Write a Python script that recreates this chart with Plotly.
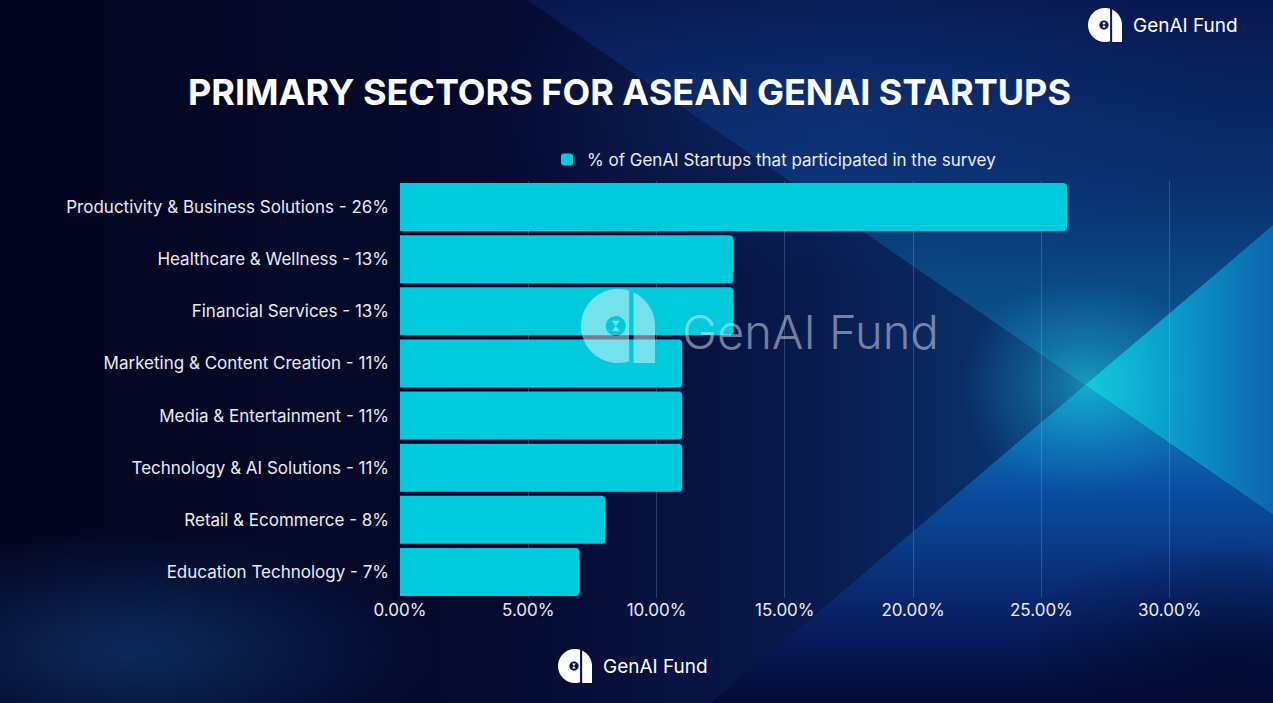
import numpy as np
import plotly.graph_objects as go

# ---------------- data ----------------
categories = [
    "Productivity & Business Solutions - 26%",
    "Healthcare & Wellness - 13%",
    "Financial Services - 13%",
    "Marketing & Content Creation - 11%",
    "Media & Entertainment - 11%",
    "Technology & AI Solutions - 11%",
    "Retail & Ecommerce - 8%",
    "Education Technology - 7%",
]
share_pct = [26, 13, 13, 11, 11, 11, 8, 7]
x_ticks = [0, 5, 10, 15, 20, 25, 30]
x_tick_labels = ["0.00%", "5.00%", "10.00%", "15.00%", "20.00%", "25.00%", "30.00%"]
series_name = "% of GenAI Startups that participated in the survey"
title_text = "PRIMARY SECTORS FOR ASEAN GENAI STARTUPS"
brand = "GenAI Fund"

W, H = 1273, 703
FONT = "Inter"
BAR = "#00CBDC"

fig = go.Figure()

# ---------------- decorative background (pixel space on x/y) ----------------
def poly(pts, grad, gtype, start=None, stop=None):
    xs = [p[0] for p in pts] + [pts[0][0]]
    ys = [p[1] for p in pts] + [pts[0][1]]
    fg = dict(type=gtype, colorscale=grad)
    if start is not None:
        fg["start"] = start
        fg["stop"] = stop
    fig.add_trace(go.Scatter(x=xs, y=ys, mode="lines", fill="toself",
                             line=dict(width=0), fillgradient=fg,
                             hoverinfo="skip", showlegend=False,
                             xaxis="x", yaxis="y"))

def ellipse(cx, cy, rx, ry, grad):
    t = np.linspace(0, 2 * np.pi, 90)
    pts = list(zip(cx + rx * np.cos(t), cy + ry * np.sin(t)))
    poly(pts, grad, "radial")

C = (1085, 385)
poly([(0, 0), (527, 0), C, (711, 703), (0, 703)],
     [[0, "#03051e"], [0.45, "#050a2e"], [0.75, "#081a4e"], [1, "#0b3c78"]],
     "horizontal", 0, 1085)
poly([(527, 0), (1273, 0), (1273, 225), C],
     [[0, "#08174f"], [0.5, "#0a3170"], [1, "#0b6398"]],
     "vertical", 0, 385)
poly([C, (1273, 225), (1273, 515)],
     [[0, "#07c6d4"], [0.5, "#0b98c8"], [1, "#0d66ae"]],
     "horizontal", 1085, 1273)
poly([(711, 703), C, (1273, 515), (1273, 703)],
     [[0, "#0a88bc"], [0.35, "#0a4c9e"], [0.75, "#081f62"], [1, "#050b38"]],
     "vertical", 385, 703)
ellipse(1085, 385, 125, 110, [[0, "rgba(30,210,225,0.5)"], [1, "rgba(30,150,210,0)"]])
ellipse(130, 650, 300, 120, [[0, "rgba(20,70,140,0.55)"], [1, "rgba(20,70,140,0)"]])
ellipse(850, 110, 380, 170, [[0, "rgba(20,70,150,0.3)"], [1, "rgba(20,70,150,0)"]])
ellipse(1230, 660, 220, 120, [[0, "rgba(3,6,35,0.6)"], [1, "rgba(3,6,35,0)"]])

# ---------------- bars ----------------
fig.add_trace(go.Bar(
    y=categories, x=share_pct, orientation="h", name=series_name,
    marker=dict(color=BAR, line=dict(width=0)),
    xaxis="x2", yaxis="y2", showlegend=True,
    hovertemplate="%{y}: %{x:.2f}%<extra></extra>",
))

# ---------------- logo shapes ----------------
def arc(cx, cy, r, t0, t1, n=40):
    t = np.linspace(t0, t1, n)
    return [(cx + r * np.cos(a), cy + r * np.sin(a)) for a in t]

def path_of(pts, close=True):
    s = "M " + " L ".join(f"{x:.2f},{y:.2f}" for x, y in pts)
    return s + (" Z" if close else "")

shapes = []

def logo(cx, cy, r, color):
    a = 0.30 * r
    b = 0.42 * r
    ta = np.arccos(a / r)
    left = arc(cx, cy, r, -ta, -(2 * np.pi - ta), 60)
    hole = arc(cx - 0.06 * r, cy, 0.27 * r, 0, 2 * np.pi, 30)
    p = path_of(left) + " " + path_of(hole)
    shapes.append(dict(type="path", path=p, xref="x", yref="y",
                       fillcolor=color, line=dict(width=0),
                       fillrule="evenodd", layer="above"))
    tb = np.arccos(b / r)
    right = arc(cx, cy, r, -tb, 0, 30) + [(cx + r, cy + r), (cx + b, cy + r)]
    shapes.append(dict(type="path", path=path_of(right), xref="x", yref="y",
                       fillcolor=color, line=dict(width=0), layer="above"))
    hx = cx - 0.06 * r
    w, h = 0.11 * r, 0.14 * r
    hg = [(hx - w, cy - h), (hx + w, cy - h), (hx, cy), (hx + w, cy + h), (hx - w, cy + h), (hx, cy)]
    shapes.append(dict(type="path", path=path_of(hg), xref="x", yref="y",
                       fillcolor=color, line=dict(width=0), layer="above"))

logo(1105, 25, 17, "#ffffff")
logo(575, 666, 17, "#ffffff")
logo(618, 326, 37, "rgba(255,255,255,0.45)")

annotations = [
    dict(text=brand, x=1131, y=25, xref="x", yref="y", xanchor="left", yanchor="middle",
         showarrow=False, font=dict(family=FONT, size=19, color="#ffffff")),
    dict(text=brand, x=601, y=666, xref="x", yref="y", xanchor="left", yanchor="middle",
         showarrow=False, font=dict(family=FONT, size=19, color="#ffffff")),
    dict(text=brand, x=680, y=331, xref="x", yref="y", xanchor="left", yanchor="middle",
         showarrow=False, font=dict(family=FONT, size=47, color="rgba(225,230,245,0.5)", weight=300)),
]

y_lo = 1 - 598 / H
y_hi = 1 - 181 / H

fig.update_layout(
    width=W, height=H, autosize=False,
    margin=dict(l=0, r=0, t=0, b=0, pad=0),
    paper_bgcolor="#03051e",
    plot_bgcolor="rgba(0,0,0,0)",
    font=dict(family=FONT, color="#E8ECF5", size=17),
    title=dict(text=title_text, x=629.5 / W, y=1 - 92 / H, xanchor="center", yanchor="middle",
               font=dict(family=FONT, size=36, color="#ffffff", weight=700)),
    xaxis=dict(domain=[0, 1], range=[0, W], visible=False, fixedrange=True),
    yaxis=dict(domain=[0, 1], range=[H, 0], visible=False, fixedrange=True),
    xaxis2=dict(domain=[400 / W, 1262 / W], anchor="y2", range=[0, 33.6],
                tickvals=x_ticks, ticktext=x_tick_labels,
                showgrid=True, gridcolor="rgba(200,210,235,0.22)", gridwidth=1,
                zeroline=False, showline=False, ticks="", automargin=False,
                tickfont=dict(family=FONT, size=17, color="#E8ECF5")),
    yaxis2=dict(domain=[y_lo, y_hi], anchor="x2", autorange="reversed",
                showgrid=False, zeroline=False, showline=False, ticks="",
                ticklabelstandoff=10, automargin=False,
                tickfont=dict(family=FONT, size=17, color="#E8ECF5")),
    bargap=0.08,
    barcornerradius=4,
    showlegend=True,
    legend=dict(x=547 / W, y=1 - 160 / H, xanchor="left", yanchor="middle",
                orientation="h", bgcolor="rgba(0,0,0,0)",
                font=dict(family=FONT, size=17, color="#E8ECF5")),
    shapes=shapes,
    annotations=annotations,
)

fig.write_html(
    "out.html",
    config={"responsive": False, "displayModeBar": False},
    post_script="document.body.style.margin='0';document.body.style.overflow='hidden';",
)
